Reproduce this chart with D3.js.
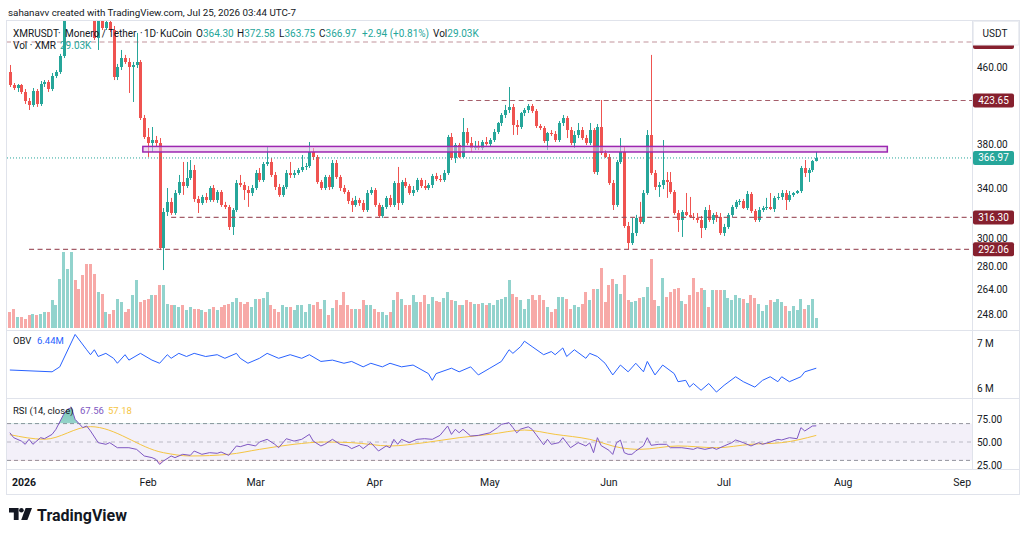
<!DOCTYPE html>
<html>
<head>
<meta charset="utf-8">
<script src="https://cdn.jsdelivr.net/npm/d3@7"></script>
<style>
  body { margin: 0; background: #fff; }
  svg { display: block; }
</style>
</head>
<body>
<script>
// XMRUSDT daily candles, Dec 27 2025 -> Jul 25 2026
const firstDay = Date.UTC(2025, 11, 27);

const opens = [
  454.9,440.4,437.1,440.4,432.8,423.2,419.0,433.8,420.0,441.5,
  443.7,436.0,450.4,454.9,473.5,533.9,555.7,579.9,566.0,556.0,
  548.0,536.0,528.0,495.3,518.1,507.9,515.5,505.3,449.3,460.6,
  471.1,466.5,460.6,463.0,466.5,405.5,386.7,381.0,383.8,381.0,
  293.0,320.6,328.8,319.8,336.2,345.6,342.1,349.1,356.1,331.2,
  328.0,332.9,330.4,340.4,330.4,337.0,326.3,324.7,308.8,322.2,
  344.7,343.0,338.7,336.2,340.4,353.5,347.3,361.5,363.3,351.7,
  341.2,334.6,341.2,353.5,351.7,353.5,356.1,358.8,359.7,372.5,
  367.9,345.6,340.4,350.0,341.2,362.4,350.0,340.4,337.0,329.6,
  326.3,330.4,328.0,322.2,336.2,338.7,326.3,317.5,324.6,332.1,
  326.3,344.7,328.0,345.6,342.1,336.2,338.7,347.3,342.1,340.4,
  343.0,350.8,348.2,347.3,353.5,386.7,366.9,379.0,367.9,391.6,
  381.0,376.2,377.1,376.2,381.9,380.0,383.8,391.6,400.5,408.6,
  413.7,416.9,398.5,396.5,410.6,413.7,417.9,412.7,397.5,395.5,
  382.9,390.6,389.6,383.8,400.5,405.5,393.5,381.0,388.7,393.5,
  385.7,381.0,393.5,354.3,396.5,371.5,367.9,344.7,326.3,363.3,
  372.5,309.6,296.7,304.2,315.9,312.7,336.2,388.7,353.5,341.2,
  343.0,347.3,345.6,337.0,319.8,314.3,320.6,318.3,316.6,315.9,
  314.3,308.1,322.2,314.3,318.3,316.6,304.2,308.8,318.3,324.6,
  328.8,329.6,323.8,335.4,321.4,314.3,322.2,323.8,324.6,323.0,
  332.1,332.9,336.2,330.4,334.6,336.2,337.9,357.9,353.5,356.1,
  364.30
];
const highs = [
  463.0,442.6,441.5,441.5,436.0,426.3,437.1,436.0,444.8,445.9,
  445.9,453.8,457.2,476.0,544.7,565.5,594.5,590.0,575.0,568.0,
  560.0,548.0,535.0,520.7,524.7,520.7,520.7,510.4,464.2,480.7,
  474.8,471.1,466.5,501.6,468.8,408.6,395.5,396.5,387.7,385.7,
  323.8,340.4,332.1,338.7,351.7,363.3,363.3,365.1,360.6,333.7,
  334.6,336.2,342.1,343.0,338.7,338.7,328.8,326.3,323.8,347.3,
  351.7,345.6,342.1,343.0,356.1,357.9,363.3,377.1,366.9,354.3,
  343.9,343.0,356.1,363.3,356.1,357.9,369.7,362.4,381.9,376.2,
  369.7,347.3,351.7,351.7,365.1,365.1,351.7,343.0,338.7,332.1,
  333.7,332.1,330.4,338.7,341.2,340.4,328.0,326.3,333.7,334.6,
  346.4,358.8,347.3,349.1,343.9,342.1,349.1,349.1,347.3,344.7,
  352.6,353.5,351.7,356.1,388.7,390.6,381.0,381.0,405.5,395.5,
  386.7,382.9,382.9,383.8,386.7,385.7,394.5,401.5,410.6,419.0,
  438.2,420.0,403.5,411.7,415.8,420.0,420.0,414.7,399.5,397.5,
  391.6,393.5,392.5,402.5,408.6,407.6,396.5,392.5,400.5,396.5,
  388.7,400.5,395.5,399.5,424.2,374.3,370.6,347.3,365.1,385.7,
  377.1,312.7,315.9,318.3,328.8,338.7,393.5,474.8,356.1,345.6,
  383.8,354.3,354.3,338.7,322.2,322.2,336.2,332.9,319.8,319.8,
  317.4,324.6,326.3,319.8,320.6,319.8,311.2,319.8,326.3,330.4,
  331.2,331.2,337.9,337.0,323.0,324.6,325.5,332.1,336.2,333.7,
  336.2,338.7,338.7,337.9,337.0,338.7,359.7,365.1,357.9,365.1,
  372.58
];
const lows = [
  438.2,434.9,432.8,430.6,420.0,413.7,416.9,416.9,417.9,438.2,
  432.8,433.8,448.1,452.7,471.1,528.6,551.6,560.0,548.0,540.0,
  530.0,520.0,492.8,480.7,505.3,505.3,502.8,445.9,445.9,457.2,
  464.2,431.7,422.1,459.5,403.5,384.8,367.9,372.5,378.1,291.5,
  277.3,317.4,318.3,318.3,334.6,334.6,340.4,347.3,328.8,319.8,
  326.3,328.0,328.8,328.8,328.0,324.7,323.0,306.5,302.7,320.6,
  341.2,330.4,324.7,333.7,338.7,345.6,345.6,359.7,349.9,338.7,
  332.9,332.9,339.5,349.1,349.1,351.7,354.3,356.1,357.9,365.1,
  343.9,338.7,338.7,338.7,339.5,348.2,337.9,335.4,327.1,320.6,
  324.7,325.5,320.6,320.6,334.6,324.7,315.9,315.9,323.0,324.6,
  324.6,322.2,326.3,340.4,334.6,333.7,337.0,340.4,338.7,338.7,
  340.4,346.4,345.6,345.6,351.7,365.1,362.4,366.9,366.9,379.0,
  372.5,374.3,374.3,374.3,378.5,378.1,381.9,389.6,397.5,405.5,
  410.6,388.7,388.7,394.5,407.5,410.6,410.6,395.5,393.5,381.0,
  374.3,387.7,381.9,381.9,397.5,385.7,379.0,376.2,385.7,383.8,
  379.0,379.0,352.6,351.7,369.7,366.9,343.0,322.2,324.7,361.5,
  308.1,292.2,295.2,301.9,311.2,311.2,334.6,351.7,338.7,332.9,
  339.5,332.1,335.4,318.3,305.0,301.2,317.4,315.9,314.3,312.0,
  300.4,306.5,312.7,311.2,312.7,302.7,301.9,307.3,316.6,323.0,
  326.3,323.0,322.2,319.8,312.7,312.7,320.6,322.2,322.2,320.6,
  330.4,330.4,322.2,328.8,332.9,335.4,336.2,349.9,345.6,354.3,
  363.75
];
const closes = [
  440.4,437.1,440.4,432.8,423.2,419.0,433.8,420.0,441.5,443.7,
  436.0,450.4,454.9,473.5,533.9,555.7,579.9,566.0,556.0,548.0,
  536.0,528.0,495.3,518.1,507.9,515.5,505.3,449.3,460.6,471.1,
  466.5,460.6,463.0,466.5,405.5,386.7,381.0,383.8,381.0,293.0,
  320.6,328.8,319.8,336.2,345.6,342.1,349.1,356.1,331.2,328.0,
  332.9,330.4,340.4,330.4,337.0,326.3,324.7,308.8,322.2,344.7,
  343.0,338.7,336.2,340.4,353.5,347.3,361.5,363.3,351.7,341.2,
  334.6,341.2,353.5,351.7,353.5,356.1,358.8,359.7,372.5,367.9,
  345.6,340.4,350.0,341.2,362.4,350.0,340.4,337.0,329.6,326.3,
  330.4,328.0,322.2,336.2,338.7,326.3,317.5,324.6,332.1,326.3,
  344.7,328.0,345.6,342.1,336.2,338.7,347.3,342.1,340.4,343.0,
  350.8,348.2,347.3,353.5,386.7,366.9,379.0,367.9,391.6,381.0,
  376.2,377.1,376.2,381.9,380.0,383.8,391.6,400.5,408.6,413.7,
  416.9,398.5,396.5,410.6,413.7,417.9,412.7,397.5,395.5,382.9,
  390.6,389.6,383.8,400.5,405.5,393.5,381.0,388.7,393.5,385.7,
  381.0,393.5,354.3,396.5,371.5,367.9,344.7,326.3,363.3,372.5,
  309.6,296.7,304.2,315.9,312.7,336.2,388.7,353.5,341.2,343.0,
  347.3,345.6,337.0,319.8,314.3,320.6,318.3,316.6,315.9,314.3,
  308.1,322.2,314.3,318.3,316.6,304.2,308.8,318.3,324.6,328.8,
  329.6,323.8,335.4,321.4,314.3,322.2,323.8,324.6,323.0,332.1,
  332.9,336.2,330.4,334.6,336.2,337.9,357.9,353.5,356.1,364.3,
  366.97
];
// volume in thousands of XMR
const volumes = [
  46,56,32,32,27,37,42,37,42,46,
  46,80,66,143,220,172,220,138,114,153,
  187,187,158,104,100,46,42,51,85,75,
  46,56,95,138,75,80,85,95,95,124,
  124,71,66,66,61,66,51,61,56,54,
  51,46,56,61,51,61,66,71,75,87,
  75,71,75,61,85,85,87,104,66,56,
  46,66,61,61,51,68,68,46,71,66,
  75,56,80,37,58,80,66,103,66,56,
  56,56,80,68,66,56,46,46,37,46,
  80,103,85,66,66,95,75,75,97,71,
  90,77,75,87,103,80,77,66,68,80,
  75,71,71,73,68,73,68,80,85,90,
  138,100,90,80,56,85,95,80,95,80,
  61,46,56,90,90,85,56,66,61,71,
  104,80,114,114,174,75,124,143,129,100,
  153,80,75,77,87,90,119,201,80,63,
  145,90,103,112,116,77,71,97,145,104,
  116,109,61,111,109,109,111,87,82,95,
  87,85,73,97,87,70,50,66,82,75,
  83,75,64,48,63,52,85,56,66,85,
  29.03
];

// OBV (millions) read at its turning points, by candle index
const obvIdx = [0,11,13,17,20,21,22,23,25,27,28,30,31,34,37,39,41,42,44,46,48,51,54,56,59,60,62,65,67,70,
  73,76,78,81,84,87,89,92,94,97,99,102,105,109,110,111,115,117,120,122,125,128,130,131,133,134,136,139,141,142,
  144,145,147,150,151,153,155,157,159,161,163,165,166,168,170,173,174,176,177,178,180,182,184,186,189,191,194,196,198,200,
  201,203,206,207,210];
const obvVal = [6.40,6.36,6.47,7.19,6.85,6.74,6.85,6.70,6.77,6.66,6.55,6.74,6.62,6.77,6.62,6.55,6.74,6.66,6.77,6.70,
  6.77,6.70,6.74,6.66,6.77,6.66,6.55,6.66,6.77,6.66,6.74,6.66,6.74,6.59,6.62,6.55,6.59,6.47,6.55,6.47,
  6.55,6.47,6.51,6.32,6.17,6.32,6.44,6.36,6.47,6.29,6.44,6.59,6.85,6.77,6.92,7.04,6.92,6.74,6.81,6.74,
  6.89,6.70,6.85,6.66,6.77,6.70,6.55,6.29,6.51,6.36,6.55,6.36,6.59,6.29,6.51,6.32,6.14,6.17,6.02,6.10,
  5.95,6.10,5.91,6.06,6.25,6.14,6.02,6.17,6.25,6.14,6.25,6.14,6.25,6.36,6.44];

// RSI(14) read at its turning points
const rsiIdx = [0,1,3,4,5,6,8,9,11,12,14,15,16,17,19,20,21,23,25,26,28,31,33,35,37,38,39,40,42,43,
  45,47,48,50,52,54,55,57,59,60,62,64,65,67,69,70,72,74,76,78,79,81,82,84,86,88,89,91,92,94,
  96,98,99,100,101,102,104,106,108,110,112,114,115,116,117,118,120,122,125,127,128,130,131,132,133,135,136,137,139,140,
  141,143,144,146,148,150,151,152,153,154,156,157,158,159,160,161,162,163,165,166,167,169,171,172,175,178,179,181,183,184,
  186,188,189,191,193,195,196,198,200,201,203,205,206,207,209,210];
const rsiVal = [60.1,54.7,51,47.5,53,47.5,54.7,53.6,58.3,63.8,80,85.5,87.3,74.6,65.6,67.4,62,49.3,47.5,49.3,43.8,43.8,42,34.8,33,31.2,25.7,29.3,34.8,33,
  36.6,35.5,40.2,36.6,38.4,37.7,39.1,35.5,45.7,44.9,47.5,45.7,50,52.9,47.5,43.8,53.6,51,52.9,58.3,51,45.7,47.5,52.9,47.5,45.7,42.8,46.4,42.8,49.3,
  40.2,45.7,43.8,52.9,47.5,52.9,49.3,52.9,53.6,52.9,57.2,67.4,58.3,63.8,60.1,63.8,56.5,57.2,60,65.6,69.2,71,65.6,60,64,66.5,63.8,58.3,47,52.9,
  47.5,49.3,54.7,43.8,49.3,45.7,49,38.4,54.7,46,41,36.5,49.3,52,38.4,36.6,36.6,40.2,46,54.7,46.4,47.5,47.5,43.8,43.8,42,43.8,42,43.8,42,
  45.7,49.3,52.2,49.3,45.7,49.3,47.5,50,52.9,52.2,54.7,53.6,65.6,62,67.4,67.56];

// RSI-based moving average
const maIdx = [0,9,21,40,47,57,65,74,82,89,99,108,117,125,134,142,151,159,164,174,184,193,201,210];
const maVal = [58,53,66.7,38.4,34.8,36.6,42,47.5,50,49.3,45.7,49.3,54.7,58.3,63,58.3,52.9,43.8,42,45.7,43.8,47.5,49.3,57.18];

// horizontal rays drawn on the chart
const levelPrice = [490.4, 423.65, 316.30, 292.06];
const levelFrom = [Date.UTC(2025,11,26), Date.UTC(2026,3,23), Date.UTC(2026,1,7), Date.UTC(2026,0,1)];
// purple resistance zone
const zoneTime = [Date.UTC(2026,0,30,15), Date.UTC(2026,7,12,12)];
const zonePrice = [372.5, 377.7];

const priceTicks = [460, 380, 340, 300, 280, 264, 248];
const monthTicks = [Date.UTC(2026,0,1), Date.UTC(2026,1,1), Date.UTC(2026,2,1), Date.UTC(2026,3,1),
  Date.UTC(2026,4,1), Date.UTC(2026,5,1), Date.UTC(2026,6,1), Date.UTC(2026,7,1), Date.UTC(2026,8,1)];
const monthNames = ["2026","Feb","Mar","Apr","May","Jun","Jul","Aug","Sep"];

const dates = closes.map((c, i) => d3.utcDay.offset(new Date(firstDay), i));

const upC = "#26a69a", dnC = "#ef5350";
const upV = "#92d3cd", dnV = "#f7a9a7";
const ink = "#131722", lineRed = "#9b4d5a", tagRed = "#86202e";
const font = "Roboto, 'Noto Sans', 'DejaVu Sans', sans-serif";

const svg = d3.select("body").append("svg")
  .attr("width", 1024).attr("height", 537)
  .style("font-family", font);
const defs = svg.append("defs");

const axisX = 972;
const x = d3.scaleUtc()
  .domain([new Date(Date.UTC(2026,1,1)), new Date(Date.UTC(2026,8,1))])
  .range([148.1, 962.2]);
const y = d3.scaleLog().domain([238.7, 518.1]).range([330, 20]);
const yVol = d3.scaleLinear().domain([0, 232]).range([328, 248]);
const yObv = d3.scaleLinear().domain([6, 7]).range([388, 343]);
const yRsi = d3.scaleLinear().domain([25, 75]).range([465, 419]);

function clip(id, x0, y0, w, h) {
  defs.append("clipPath").attr("id", id)
    .append("rect").attr("x", x0).attr("y", y0).attr("width", w).attr("height", h);
}
clip("cPrice", 7, 21, axisX - 7, 309);
clip("cObv", 7, 331, axisX - 7, 67);
clip("cRsi", 7, 399, axisX - 7, 70);
clip("cOver", 7, 399, axisX - 7, yRsi(70) - 399);
clip("cUnder", 7, yRsi(30), axisX - 7, 469 - yRsi(30));

// frame and separators
svg.append("rect").attr("x", 6.5).attr("y", 20.5).attr("width", 1013).attr("height", 474)
  .attr("fill", "none").attr("stroke", "#e0e3eb");
[330.5, 398.5, 469.5].forEach(v => {
  svg.append("line").attr("x1", 6).attr("x2", 1020).attr("y1", v).attr("y2", v)
    .attr("stroke", "#e0e3eb");
});
svg.append("line").attr("x1", axisX + 0.5).attr("x2", axisX + 0.5).attr("y1", 20).attr("y2", 470)
  .attr("stroke", "#e0e3eb");

// ---------- price pane ----------
const gP = svg.append("g").attr("clip-path", "url(#cPrice)");

gP.selectAll("rect.vol").data(volumes).join("rect").attr("class", "vol")
  .attr("x", (v, i) => Math.round(x(dates[i]) - 1.5))
  .attr("width", 3)
  .attr("y", v => yVol(v))
  .attr("height", v => yVol(0) - yVol(v))
  .attr("fill", (v, i) => closes[i] >= opens[i] ? upV : dnV)
  .attr("shape-rendering", "crispEdges");

gP.selectAll("line.wick").data(dates).join("line").attr("class", "wick")
  .attr("x1", d => Math.round(x(d)) + 0.5).attr("x2", d => Math.round(x(d)) + 0.5)
  .attr("y1", (d, i) => y(highs[i])).attr("y2", (d, i) => y(lows[i]))
  .attr("stroke", (d, i) => closes[i] >= opens[i] ? upC : dnC)
  .attr("stroke-width", 1);

gP.selectAll("rect.body").data(dates).join("rect").attr("class", "body")
  .attr("x", d => Math.round(x(d)) - 1)
  .attr("width", 3)
  .attr("y", (d, i) => y(Math.max(opens[i], closes[i])))
  .attr("height", (d, i) => Math.max(1, y(Math.min(opens[i], closes[i])) - y(Math.max(opens[i], closes[i]))))
  .attr("fill", (d, i) => closes[i] >= opens[i] ? upC : dnC)
  .attr("shape-rendering", "crispEdges");

// zone
gP.append("rect")
  .attr("x", x(new Date(zoneTime[0]))).attr("width", x(new Date(zoneTime[1])) - x(new Date(zoneTime[0])))
  .attr("y", y(zonePrice[1])).attr("height", y(zonePrice[0]) - y(zonePrice[1]))
  .attr("fill", "#e1bee7").attr("fill-opacity", 0.55)
  .attr("stroke", "#9c27b0").attr("stroke-width", 1.5);

// horizontal rays
levelPrice.forEach((p, k) => {
  gP.append("line")
    .attr("x1", x(new Date(levelFrom[k]))).attr("x2", axisX)
    .attr("y1", y(p)).attr("y2", y(p))
    .attr("stroke", lineRed).attr("stroke-width", 1.2).attr("stroke-opacity", k === 0 ? 0.6 : 0.9)
    .attr("stroke-dasharray", "5,3.5");
});

// last price line
gP.append("line").attr("x1", 7).attr("x2", axisX)
  .attr("y1", y(closes[closes.length - 1])).attr("y2", y(closes[closes.length - 1]))
  .attr("stroke", upC).attr("stroke-width", 1).attr("stroke-dasharray", "1,2");

// price axis labels
svg.append("g").selectAll("text").data(priceTicks).join("text")
  .attr("x", 977).attr("y", d => y(d) + 3.5)
  .attr("font-size", 10).attr("fill", ink)
  .text(d => d3.format(".2f")(d));

function tag(price, color) {
  svg.append("rect").attr("x", 973).attr("y", y(price) - 7).attr("width", 41).attr("height", 14)
    .attr("rx", 2).attr("fill", color);
  svg.append("text").attr("x", 993.5).attr("y", y(price) + 3.5).attr("text-anchor", "middle")
    .attr("font-size", 10).attr("fill", "#fff").text(d3.format(".2f")(price));
}
levelPrice.forEach(p => tag(p, tagRed));
tag(closes[closes.length - 1], upC);

// currency box
svg.append("rect").attr("x", 973.5).attr("y", 21.5).attr("width", 45).attr("height", 23.5)
  .attr("fill", "#fff").attr("stroke", "#eceef2");
svg.append("text").attr("x", 995).attr("y", 36.5).attr("text-anchor", "middle")
  .attr("font-size", 10).attr("fill", ink).text("USDT");

// legend
svg.append("text").attr("x", 8).attr("y", 16).attr("font-size", 9.8).attr("fill", ink)
  .text("sahanavv created with TradingView.com, Jul 25, 2026 03:44 UTC-7");

const leg = svg.append("text").attr("y", 36.5).attr("font-size", 10).attr("fill", ink);
[["XMRUSDT", 13], ["·", 58], ["Monero / Tether", 65], ["·", 140], ["1D", 144], ["·", 156], ["KuCoin", 160]]
  .forEach(([t, px]) => leg.append("tspan").attr("x", px).text(t));
[["O", "364.30", 196], ["H", "372.58", 237], ["L", "363.75", 279], ["C", "366.97", 319]].forEach(([k, v, px]) => {
  leg.append("tspan").attr("x", px).text(k);
  leg.append("tspan").attr("fill", upC).text(v);
});
leg.append("tspan").attr("x", 362).attr("fill", upC).text("+2.94 (+0.81%)");
leg.append("tspan").attr("x", 433).text("Vol");
leg.append("tspan").attr("fill", upC).text("29.03K");

const leg2 = svg.append("text").attr("y", 48.5).attr("font-size", 10).attr("fill", ink);
leg2.append("tspan").attr("x", 13).text("Vol · XMR");
leg2.append("tspan").attr("x", 60).attr("fill", upC).text("29.03K");

// ---------- OBV pane ----------
const obvLine = d3.line().x((d, k) => x(dates[obvIdx[k]])).y(d => yObv(d));
svg.append("g").attr("clip-path", "url(#cObv)").append("path")
  .datum(obvVal).attr("d", obvLine)
  .attr("fill", "none").attr("stroke", "#2962ff").attr("stroke-width", 1);

const lo = svg.append("text").attr("y", 344).attr("font-size", 9.5).attr("fill", ink);
lo.append("tspan").attr("x", 13).text("OBV");
lo.append("tspan").attr("x", 37).attr("fill", "#2962ff").text("6.44M");

[[7, "7 M"], [6, "6 M"]].forEach(([v, t]) => {
  svg.append("text").attr("x", 977).attr("y", yObv(v) + 3.5).attr("font-size", 10).attr("fill", ink).text(t);
});

// ---------- RSI pane ----------
const gR = svg.append("g").attr("clip-path", "url(#cRsi)");
gR.append("rect").attr("x", 7).attr("width", axisX - 7)
  .attr("y", yRsi(70)).attr("height", yRsi(30) - yRsi(70))
  .attr("fill", "#7e57c2").attr("fill-opacity", 0.09);
[[70, "4,3", 0.8], [30, "4,3", 0.8], [50, "4,4", 0.45]].forEach(([v, dash, op]) => {
  gR.append("line").attr("x1", 7).attr("x2", axisX).attr("y1", yRsi(v)).attr("y2", yRsi(v))
    .attr("stroke", "#787b86").attr("stroke-opacity", op).attr("stroke-dasharray", dash);
});

const grad = defs.append("linearGradient").attr("id", "gOver")
  .attr("x1", 0).attr("x2", 0).attr("y1", 0).attr("y2", 1);
grad.append("stop").attr("offset", "0%").attr("stop-color", "#089981").attr("stop-opacity", 0.55);
grad.append("stop").attr("offset", "100%").attr("stop-color", "#089981").attr("stop-opacity", 0.1);

const rsiArea = (lvl) => d3.area().x((d, k) => x(dates[rsiIdx[k]])).y0(yRsi(lvl)).y1(d => yRsi(d));
gR.append("g").attr("clip-path", "url(#cOver)").append("path")
  .datum(rsiVal).attr("d", rsiArea(70)).attr("fill", "url(#gOver)");
gR.append("g").attr("clip-path", "url(#cUnder)").append("path")
  .datum(rsiVal).attr("d", rsiArea(30)).attr("fill", "#f23645").attr("fill-opacity", 0.25);

gR.append("path").datum(maVal)
  .attr("d", d3.line().curve(d3.curveMonotoneX).x((d, k) => x(dates[maIdx[k]])).y(d => yRsi(d)))
  .attr("fill", "none").attr("stroke", "#f5c542").attr("stroke-width", 1);
gR.append("path").datum(rsiVal)
  .attr("d", d3.line().x((d, k) => x(dates[rsiIdx[k]])).y(d => yRsi(d)))
  .attr("fill", "none").attr("stroke", "#7e57c2").attr("stroke-width", 1);

const lr = svg.append("text").attr("y", 414).attr("font-size", 9.5).attr("fill", ink);
lr.append("tspan").attr("x", 13).text("RSI (14, close)");
lr.append("tspan").attr("x", 80).attr("fill", "#7e57c2").text("67.56");
lr.append("tspan").attr("x", 108).attr("fill", "#f5c542").text("57.18");

[75, 50, 25].forEach(v => {
  svg.append("text").attr("x", 977).attr("y", yRsi(v) + 3.5).attr("font-size", 10).attr("fill", ink)
    .text(d3.format(".2f")(v));
});

// ---------- time axis ----------
svg.append("g").selectAll("text").data(monthTicks).join("text")
  .attr("x", (d, i) => x(new Date(d)) - (i === 0 ? 5 : 0)).attr("y", 485.5)
  .attr("text-anchor", "middle").attr("font-size", 10.5).attr("fill", ink)
  .attr("font-weight", (d, i) => i === 0 ? 700 : 400)
  .text((d, i) => monthNames[i]);

// ---------- TradingView logo ----------
const logo = svg.append("g").attr("fill", ink);
logo.append("path").attr("d", "M9,508 H18.6 V520 H13.8 V512.4 H9 Z");
logo.append("circle").attr("cx", 21.4).attr("cy", 510.3).attr("r", 2.3);
logo.append("path").attr("d", "M25.6,508 H32 L27.4,520 H21.2 Z");
svg.append("text").attr("x", 37).attr("y", 520.5).attr("font-size", 16).attr("font-weight", 700)
  .attr("fill", ink).text("TradingView");
</script>
</body>
</html>
